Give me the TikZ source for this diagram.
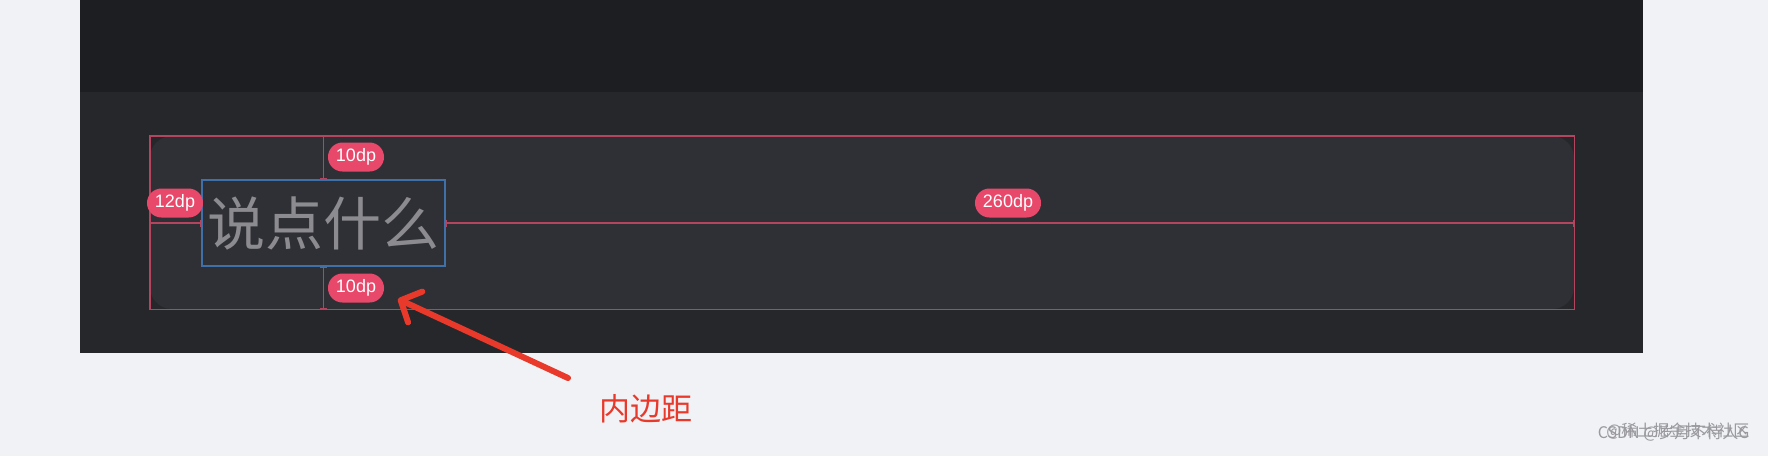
\documentclass[tikz,border=0pt]{standalone}
\usepackage{fontspec}
\setmainfont{Liberation Sans}
\newfontfamily\cjk{Noto Sans CJK SC}
\usetikzlibrary{arrows.meta}

\definecolor{pagebg}{HTML}{F0F2F5}
\definecolor{topbar}{HTML}{1D1E21}
\definecolor{panel}{HTML}{26272B}
\definecolor{cardbg}{HTML}{2F3036}
\definecolor{measure}{HTML}{B5455F}
\definecolor{pillred}{HTML}{E8486A}
\definecolor{boxblue}{HTML}{4070A8}
\definecolor{hint}{HTML}{8C8C90}
\definecolor{note}{HTML}{E8392B}
\definecolor{wmark}{HTML}{9A9A9E}

\begin{document}
\begin{tikzpicture}[x=1pt,y=-1pt]
        \tikzstyle{pill}=[fill=pillred, text=white, rounded corners=14.5pt, inner xsep=8pt, inner ysep=0pt, minimum height=29pt, font=\fontsize{18}{18}\selectfont]
        \tikzstyle{dim}=[draw=measure, line width=1.4pt]
        \tikzstyle{tick}=[{Bar[width=7pt,line width=1.4pt]}-{Bar[width=7pt,line width=1.4pt]}]

        % page and screen
        \fill[pagebg] (0,0) rectangle (1768,456);
        \fill[panel] (80,0) rectangle (1643,353);
        \fill[topbar] (80,0) rectangle (1643,92);

        % input card
        \node[fill=cardbg, rounded corners=22pt, minimum width=1424pt, minimum height=173pt, inner sep=0pt] (card) at (862,222.5) {};
        \node[draw=boxblue, line width=1.3pt, minimum width=243pt, minimum height=86pt, inner sep=0pt, text=hint, font=\cjk\fontsize{58}{58}\selectfont] (hint) at (323.5,223) {说点什么};

        % measurements
        \draw[dim] (card.south west) rectangle (card.north east);
        \draw[dim, tick] (hint.north |- card.north) -- (hint.north);
        \draw[dim, tick] (hint.south) -- (hint.south |- card.south);
        \draw[dim, tick] (hint.west -| card.west) -- (hint.west);
        \draw[dim, tick] (hint.east) -- (hint.east -| card.east);

        \node[pill] (top) at (356,157) {10dp};
        \node[pill] (bottom) at (356,288) {10dp};
        \node[pill] (left) at (175,203) {12dp};
        \node[pill] (right) at (1008,203) {260dp};

        % note
        \node[text=note, font=\cjk\fontsize{31}{31}\selectfont] (padding) at (646,409) {内边距};
        \coordinate (tail) at (568,378);
        \coordinate (tip) at (398,299);
        \draw[note, line width=6pt, line cap=round, -{Straight Barb[length=16pt,width=34pt,line cap=round,line join=round]}] (tail) -- (tip);

        % watermark
        \node[anchor=east, text=wmark, font=\cjk\fontsize{16}{16}\selectfont] (wm1) at (1753,433) {CSDN @岁月不待人G};
        \node[anchor=east, text=wmark, font=\cjk\fontsize{16}{16}\selectfont] (wm2) at (1753,431) {@稀土掘金技术社区};
\end{tikzpicture}
\end{document}
